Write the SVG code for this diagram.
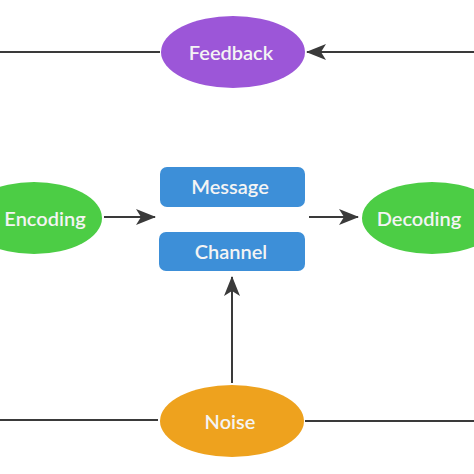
<svg xmlns="http://www.w3.org/2000/svg" width="474" height="474" viewBox="0 0 474 474">
<style>
.lbl{font-family:"Lato","Open Sans",sans-serif;font-size:20px;font-weight:600;fill:#f4f4f4;text-anchor:middle;dominant-baseline:central}
.ln{stroke:#3a3a3a;stroke-width:2;fill:none}
</style>
<defs>
<marker id="ah" viewBox="0 0 20 16" refX="19" refY="8" markerWidth="20" markerHeight="16" markerUnits="userSpaceOnUse" orient="auto">
<path d="M0,0 L20,8 L0,16 L5,8 Z" fill="#3a3a3a"/>
</marker>
</defs>
<rect width="474" height="474" fill="#ffffff"/>
<g id="connectors">
<line class="ln" x1="0" y1="52" x2="160" y2="52"/>
<line class="ln" x1="474" y1="52" x2="307" y2="52" marker-end="url(#ah)"/>
<line class="ln" x1="104" y1="217" x2="155" y2="217" marker-end="url(#ah)"/>
<line class="ln" x1="309" y1="217" x2="358" y2="217" marker-end="url(#ah)"/>
<line class="ln" x1="232" y1="383" x2="232" y2="277" marker-end="url(#ah)"/>
<line class="ln" x1="0" y1="420" x2="158" y2="420"/>
<line class="ln" x1="305" y1="421" x2="474" y2="421"/>
</g>
<g id="feedback">
<ellipse cx="233" cy="52" rx="72" ry="36" fill="#9c56d8"/>
<text class="lbl" x="231" y="52">Feedback</text>
</g>
<g id="encoding">
<ellipse cx="34" cy="218" rx="68" ry="36" fill="#4ccd45"/>
<text class="lbl" x="45" y="218">Encoding</text>
</g>
<g id="message">
<rect x="160" y="167" width="145" height="40" rx="7" fill="#3d8fd8"/>
<text class="lbl" x="230" y="186">Message</text>
</g>
<g id="channel">
<rect x="159" y="232" width="146" height="39" rx="7" fill="#3d8fd8"/>
<text class="lbl" x="231" y="251">Channel</text>
</g>
<g id="decoding">
<ellipse cx="432" cy="218" rx="70" ry="36" fill="#4ccd45"/>
<text class="lbl" x="419" y="218">Decoding</text>
</g>
<g id="noise">
<ellipse cx="232" cy="421" rx="72" ry="36" fill="#eea21e"/>
<text class="lbl" x="230" y="421">Noise</text>
</g>
</svg>
